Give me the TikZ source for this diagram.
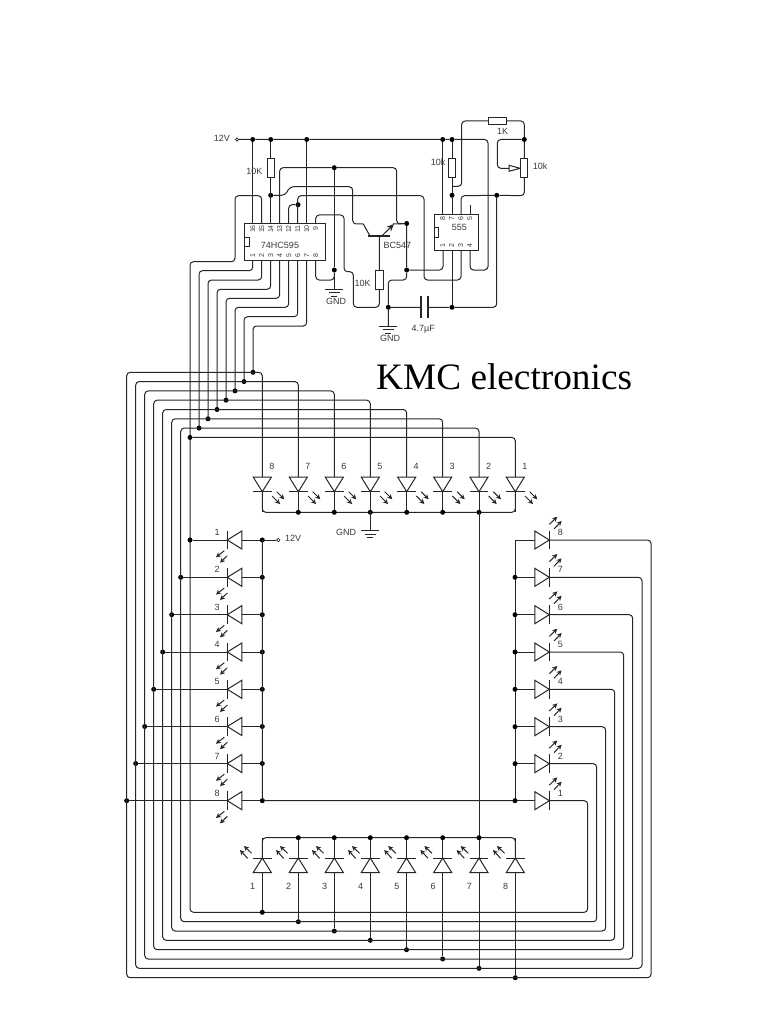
\documentclass[tikz,border=0pt]{standalone}
\usepackage{fontspec}
\setmainfont{Liberation Sans}
\newfontfamily\titlefont{Liberation Serif}
\usetikzlibrary{arrows.meta}
\definecolor{ink}{HTML}{262626}
\definecolor{txt}{HTML}{3A3A3A}
\tikzset{
  wire/.style={draw=ink,line width=1pt,rounded corners=3.5pt},
  part/.style={draw=ink,line width=1pt,fill=white},
  dot/.style={circle,fill=black,inner sep=0pt,minimum size=5pt},
  term/.style={circle,draw=ink,fill=white,line width=0.7pt,inner sep=0pt,minimum size=3.4pt},
  lbl/.style={text=txt,font=\fontsize{9}{9}\selectfont,inner sep=0pt},
  pin/.style={text=txt,font=\fontsize{7}{7}\selectfont,inner sep=0pt,rotate=90},
  arr/.style={draw=ink,line width=1pt,-{Stealth[length=5pt,width=5pt]}},
}
% diode: centre of bar at point; rotation gives the direction anode->cathode
\newcommand{\diode}[3]{%
  \begin{scope}[shift={(#2)},rotate=#3]
    \draw[part] (-14.5,-9)--(0,0)--(-14.5,9)--cycle;
    \draw[draw=ink,line width=1pt] (0,-9.3)--(0,9.3);
    \coordinate (#1k) at (0,0);
    \coordinate (#1a) at (-14.5,0);
  \end{scope}}
\newcommand{\rays}[5]{%
  \begin{scope}[shift={(#1)}]
    \draw[arr] (#2)--(#3);
    \draw[arr] (#4)--(#5);
  \end{scope}}
\newcommand{\gnd}[2]{%
  \begin{scope}[shift={(#2)}]
    \draw[draw=ink,line width=1pt] (-9,0)--(9,0) (-5.7,3.6)--(5.7,3.6) (-3,7.2)--(3,7.2);
    \coordinate (#1) at (0,0);
  \end{scope}}
\begin{document}
\begin{tikzpicture}[x=1pt,y=-1pt]
\useasboundingbox (0,0) rectangle (768,1024);
\fill[white] (0,0) rectangle (768,1024);

% ---------- 12V bus and top part
\node[term] (vcc) at (237,139.5) {};
\node[lbl,anchor=east] (vcct) at (230,138.5) {12V};
\node[dot] (b1) at (252.7,139.5) {};
\node[dot] (b2) at (270.7,139.5) {};
\node[dot] (b3) at (306.7,139.5) {};
\node[dot] (b4) at (442.7,139.5) {};
\node[dot] (b5) at (452,139.5) {};
\node[dot] (b6) at (524.3,139.5) {};

\node[dot] (j14) at (270.7,195.3) {};
\node[dot] (j12) at (298,204.7) {};
\node[dot] (g1t) at (334.3,167.7) {};
\node[dot] (g1m) at (334.3,270) {};
\node[dot] (e1) at (406.7,223.5) {};
\node[dot] (e2) at (406.7,270) {};
\node[dot] (c1) at (388.3,307.3) {};
\node[dot] (c2) at (452,307.3) {};
\node[dot] (j7) at (452,195.3) {};
\node[dot] (j6) at (496.7,195.3) {};

\gnd{g1}{334.3,289}
\gnd{g2}{388.3,326}

% wires, top
\draw[wire] (vcc) -- (b1) -- (b2) -- (b3) -- (b4) -- (b5) -- (488,139.5) -- (488,270) -- (470,270) -- (470,250.7);
\draw[wire] (b1) -- (252.7,223.3);
\draw[wire] (b2) -- (270.7,223.3);
\draw[wire] (b3) -- (306.7,223.3);
\draw[wire] (261.7,223.3) -- (261.7,195.7) -- (235,195.7) -- (235,261.7) -- (190,261.7) -- (190,912.3) -- (587.7,912.3) -- (587.7,800.7) -- (549.3,800.7);
\draw[wire] (j14) -- (285,195.3) -- (290,186.7) -- (352.7,186.7) -- (352.7,224) -- (363.3,224);
\draw[draw=ink,line width=1pt] (363.3,224) -- (370,236);
\draw[wire] (279.7,223.3) -- (279.7,167.7) -- (g1t) -- (396.7,167.7) -- (396.7,224) -- (e1);
\draw[wire] (288.7,223.3) -- (288.7,204.7) -- (j12);
\draw[wire] (297.7,223.3) -- (297.7,195.7) -- (424,195.7) -- (424,280) -- (461,280) -- (461,250.7);
\draw[wire] (315.7,223.3) -- (315.7,215) -- (344,215) -- (344,271.7) -- (353.3,271.7) -- (353.3,307.3) -- (379.3,307.3) -- (379.3,236);
\draw[wire] (g1t) -- (g1m) -- (g1);
\draw[wire] (315.7,260.3) -- (315.7,280) -- (334.3,280) -- (g1m);
% transistor
\draw[draw=ink,line width=1.2pt] (368.3,236)--(390,236);
\draw[draw=ink,line width=1pt,-{Stealth[length=7.5pt,width=6.5pt]}] (381.7,236)--(394,224);
\draw[wire] (393,224) -- (e1) -- (e2) -- (443,270) -- (443,250.7);
\draw[wire] (e2) -- (406.7,280) -- (388.3,280) -- (c1) -- (g2);
\draw[wire] (442.7,214.3) -- (b4);
\draw[wire] (452,214.3) -- (j7) -- (b5);
\draw[wire] (452,186.3) -- (461.7,186.3) -- (461.7,121) -- (524.3,121) -- (b6);
\draw[wire] (461,214.3) -- (461,195.7) -- (j6) -- (524.3,195.7) -- (b6);
\draw[wire] (j6) -- (496.7,307.3) -- (c2) -- (c1);
\draw[wire] (c2) -- (452,250.7);
\draw[wire] (470,214.3) -- (470,205);
\draw[wire] (b6) -- (497.3,139.5) -- (497.3,168.3) -- (509,168.3);
\draw[part] (509,165.3) -- (520,168.3) -- (509,171.3) -- cycle;
% resistors
\draw[part] (267.3,158.3) rectangle (274.7,177.3);
\draw[part] (448.3,158.3) rectangle (455.7,177.3);
\draw[part] (520.7,158.3) rectangle (527.7,177.3);
\draw[part] (375.7,270) rectangle (383.3,289.3);
\draw[part] (488.3,117.3) rectangle (506.7,124.7);
% capacitor
\fill[white] (421.3,300) rectangle (427.7,314);
\draw[draw=ink,line width=1.8pt] (421.3,296)--(421.3,318.3) (427.7,296)--(427.7,318.3);
% ICs
\node[part,minimum width=80.7pt,minimum height=37pt,inner sep=0pt] (ic1) at (284.65,241.8) {};
\draw[part] (244.3,237.3) rectangle (249,246.7);
\node[lbl] (ic1t) at (280,245.7) {74HC595};
\foreach \n [count=\i from 0] in {16,15,14,13,12,11,10,9}
  \node[pin] (pa\n) at (252.7+9*\i,229) {\n};
\foreach \n [count=\i from 0] in {1,2,3,4,5,6,7,8}
  \node[pin] (pb\n) at (252.7+9*\i,255.3) {\n};
\node[part,minimum width=44.7pt,minimum height=36.4pt,inner sep=0pt] (ic2) at (456.35,232.5) {};
\draw[part] (434,228) rectangle (438.3,237.3);
\node[lbl] (ic2t) at (459.3,227.3) {555};
\foreach \n [count=\i from 0] in {8,7,6,5}
  \node[pin] (qa\n) at (442.7+9*\i,219) {\n};
\foreach \n [count=\i from 0] in {1,2,3,4}
  \node[pin] (qb\n) at (442.7+9*\i,245.7) {\n};
% labels top
\node[lbl] (t1) at (254.3,171.7) {10K};
\node[lbl] (t2) at (397.3,245.7) {BC547};
\node[lbl] (t3) at (362.7,283) {10K};
\node[lbl] (t4) at (438,162.3) {10k};
\node[lbl] (t5) at (502.7,131) {1K};
\node[lbl] (t6) at (540,166) {10k};
\node[lbl] (t7) at (423.3,329) {4.7µF};
\node[lbl] (t8) at (336,301.7) {GND};
\node[lbl] (t9) at (390,338.7) {GND};
\node[anchor=base west,inner sep=0pt,font=\titlefont\fontsize{37.3}{37.3}\selectfont,text=black] (title) at (376,389) {KMC electronics};

% ---------- fan out from 74HC595
\draw[wire] (252.7,260.3) -- (252.7,270.7) -- (199,270.7) -- (199,428.1);
\draw[wire] (261.7,260.3) -- (261.7,280) -- (208,280) -- (208,418.8);
\draw[wire] (270.7,260.3) -- (270.7,289.3) -- (217,289.3) -- (217,409.5);
\draw[wire] (279.7,260.3) -- (279.7,298.3) -- (226,298.3) -- (226,400.2);
\draw[wire] (288.7,260.3) -- (288.7,307.3) -- (235,307.3) -- (235,390.9);
\draw[wire] (297.7,260.3) -- (297.7,316.7) -- (244,316.7) -- (244,381.6);
\draw[wire] (306.7,260.3) -- (306.7,326) -- (253,326) -- (253,372.3);

% ---------- rows to top LEDs and vertical columns
\foreach \nm/\fx/\y/\lx/\rr/\rx/\by/\lly/\ry/\bx in {
  1/253/372.3/126.7/262.3/651/977.7/800.7/540/515.3,
  2/244/381.6/135.7/298.3/642/968.3/763.5/577.3/479,
  3/235/390.9/144.7/334.3/632.7/959/726.5/614.7/442.7,
  4/226/400.2/153.7/370.3/623.7/949.7/689.3/652/406.5,
  5/217/409.5/162.7/406.7/614.7/940.3/652/689.3/370.3,
  6/208/418.8/171.7/442.7/605.7/931/614.7/726.7/334.3,
  7/199/428.1/180.7/479/596.7/921.7/577.3/763.7/298.3}{
  \node[dot] (r\nm) at (\fx,\y) {};
  \node[dot] (l\nm) at (\lx,\lly) {};
  \node[dot] (d\nm) at (\bx,\by) {};
  \draw[wire] (\rr,477) -- (\rr,\y) -- (\lx,\y) -- (\lx,\by) -- (\rx,\by) -- (\rx,\ry) -- (549.3,\ry);
  \draw[wire] (l\nm) -- (227.3,\lly);
  \draw[wire] (d\nm) -- (\bx,872.7);
}
\node[dot] (r8) at (190,437.4) {};
\node[dot] (l8) at (190,540) {};
\node[dot] (d8) at (262.3,912.3) {};
\draw[wire] (r8) -- (515.3,437.4) -- (515.3,477);
\draw[wire] (l8) -- (227.3,540);
\draw[wire] (d8) -- (262.3,872.7);

% ---------- top LEDs
\foreach \n/\x in {8/262.3,7/298.3,6/334.3,5/370.3,4/406.7,3/442.7,2/479,1/515.3}{
  \draw[wire] (\x,491.7) -- (\x,512.3);
  \diode{T\n}{\x,491.7}{-90}
  \node[lbl] (tl\n) at (\x+9.5,466.7) {\n};
  \rays{\x,491.7}{14.4,0}{22,7.6}{9.7,4.3}{17.7,12.3}
}
\draw[wire] (262.3,491.7) -- (262.3,512.3) -- (515.3,512.3) -- (515.3,491.7);
\foreach \x in {298.3,334.3,370.3,406.7,442.7,479}
  \node[dot] at (\x,512.3) {};
\gnd{g3}{370.3,530.7}
\draw[wire] (370.3,512.3) -- (g3);
\node[lbl] (t10) at (346,532) {GND};
% link from the top row down to the bottom row
\draw[wire] (479,512.3) -- (479,968.3);

% ---------- left LEDs
\foreach \n/\y in {1/540,2/577.3,3/614.7,4/652,5/689.3,6/726.5,7/763.5,8/800.7}{
  \diode{L\n}{227.3,\y}{180}
  \draw[wire] (241.8,\y) -- (262.3,\y);
  \node[dot] at (262.3,\y) {};
  \node[lbl] (ll\n) at (217,\y-7.5) {\n};
  \rays{227.3,\y}{-3,10.7}{-11.3,17.3}{0,15.7}{-7.3,22.7}
}
\draw[wire] (262.3,540) -- (262.3,800.7) -- (515,800.7);
\node[term] (vcc2) at (278.3,540) {};
\draw[wire] (262.3,540) -- (vcc2);
\node[lbl,anchor=west] (t11) at (285,538.5) {12V};

% ---------- right LEDs
\foreach \n/\y in {8/540,7/577.3,6/614.7,5/652,4/689.3,3/726.7,2/763.7,1/800.7}{
  \draw[wire] (515,\y) -- (534.8,\y);
  \diode{R\n}{549.3,\y}{0}
  \node[lbl] (rl\n) at (560.3,\y-7.7) {\n};
  \rays{549.3,\y}{0,-15.6}{8,-23.3}{4.7,-11}{12.3,-19}
}
\draw[wire] (515,540) -- (515,800.7);
\foreach \y in {577.3,614.7,652,689.3,726.7,763.7,800.7}
  \node[dot] at (515,\y) {};

% ---------- bottom LEDs
\draw[wire] (262.3,858) -- (262.3,837.7) -- (515.3,837.7) -- (515.3,858);
\foreach \n/\x in {1/262.3,2/298.3,3/334.3,4/370.3,5/406.5,6/442.7,7/479,8/515.3}{
  \draw[wire] (\x,858) -- (\x,837.7);
  \diode{B\n}{\x,858}{90}
  \node[lbl] (bl\n) at (\x-9.6,886) {\n};
  \rays{\x,858}{-10.7,-4.7}{-18.3,-12}{-14.7,0.3}{-22.3,-8}
}
\foreach \x in {298.3,334.3,370.3,406.5,442.7,479}
  \node[dot] at (\x,837.7) {};
\end{tikzpicture}
\end{document}
